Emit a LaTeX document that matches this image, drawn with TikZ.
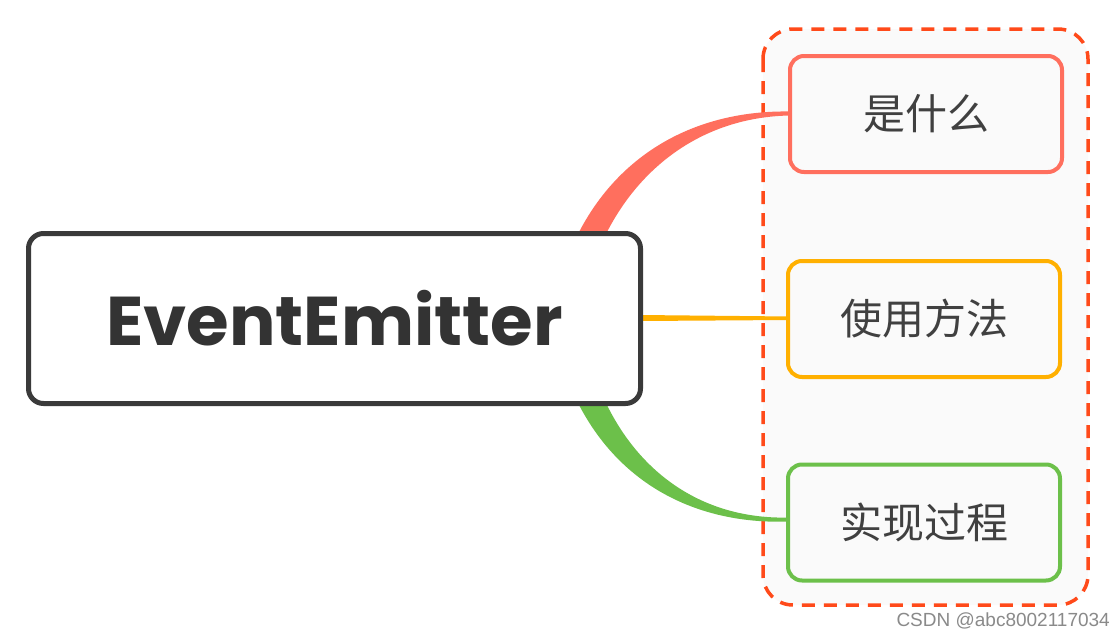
\documentclass[tikz,border=0pt]{standalone}
\usepackage{fontspec}
\setmainfont{Poppins}
\newfontfamily\cjk{Noto Sans CJK SC}
\newfontfamily\wm{Liberation Sans}
\usetikzlibrary{positioning}
\definecolor{darkbox}{HTML}{3A3A3A}
\definecolor{txt}{HTML}{333333}
\definecolor{cjktxt}{HTML}{404040}
\definecolor{redc}{HTML}{FF6F5E}
\definecolor{orac}{HTML}{FFB000}
\definecolor{grec}{HTML}{6CC04A}
\definecolor{dashc}{HTML}{FF4A1A}
\definecolor{panel}{HTML}{FAFAFA}
\definecolor{wmc}{HTML}{8A8A8A}
\tikzset{
  childbox/.style={draw=#1, line width=4pt, rounded corners=14pt, fill=panel, minimum width=272pt, minimum height=116pt, inner sep=0pt, text=cjktxt, font=\cjk\fontsize{42}{50}\selectfont},
}
\begin{document}
\begin{tikzpicture}[x=1pt,y=-1pt]
\useasboundingbox (0,0) rectangle (1120,637);
\fill[white] (0,0) rectangle (1120,637);
% dashed panel
\draw[dashc, line width=3.5pt, dash pattern=on 13pt off 9pt, rounded corners=30pt, fill=panel] (763,29) rectangle (1088,605);
% connectors (tapered)
\fill[redc] (577,236) .. controls (620,150) and (700,110) .. (790,111.5) -- (790,115.5) .. controls (705,117) and (640,165) .. (605,236) -- cycle;
\fill[orac] (640,315) -- (790,316.5) -- (790,320) -- (640,321) -- cycle;
\fill[grec] (577,401) .. controls (620,487) and (700,525) .. (790,521.5) -- (790,517.5) .. controls (705,520) and (640,475) .. (605,401) -- cycle;
% central node
\node[draw=darkbox, line width=5pt, rounded corners=15pt, fill=white, minimum width=612pt, minimum height=170pt, inner sep=0pt, text=txt, font=\bfseries\fontsize{69}{80}\selectfont] (root) at (334.5,318.5) {EventEmitter};
% children
\node[childbox=redc] (c1) at (926,114) {是什么};
\node[childbox=orac] (c2) at (924,319) {使用方法};
\node[childbox=grec] (c3) at (924,522.5) {实现过程};
% watermark
\node[text=wmc, font=\wm\fontsize{19}{22}\selectfont, anchor=east, inner sep=0pt] (wmk) at (1110,621) {CSDN @abc8002117034};
\end{tikzpicture}
\end{document}
